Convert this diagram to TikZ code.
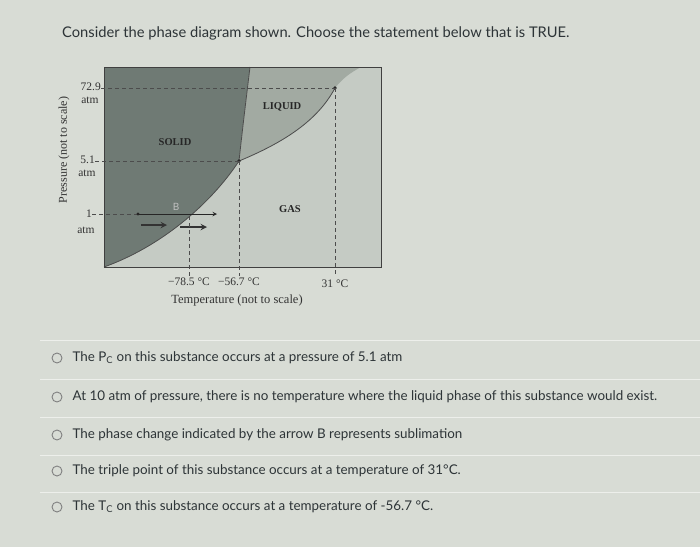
\documentclass[tikz,border=0pt]{standalone}
\usepackage{fontspec}
\setmainfont{Lato}
\newfontfamily\diagfont{Liberation Serif}
\usetikzlibrary{positioning, arrows}
\definecolor{fondo}{HTML}{D8DCD5}
\definecolor{solido}{HTML}{6F7A74}
\definecolor{liquido}{HTML}{A2AAA2}
\definecolor{gas}{HTML}{C5CBC4}
\definecolor{texto}{HTML}{2D3437}
\definecolor{linea}{HTML}{EDEFEB}
\tikzset{
	>=stealth, % puntas de flecha gruesas
	etiqueta/.style={font=\diagfont\fontsize{11.5}{12}\selectfont, text=black!80, inner sep=0pt}, % textos de los ejes
	region/.style={font=\diagfont\bfseries\fontsize{10.5}{11}\selectfont, text=black!85, inner sep=0pt}, % nombres de las fases
	guia/.style={black!70, thin, dash pattern=on 4pt off 3pt}, % lineas punteadas
	curva/.style={black!70, line width=0.8pt}, % limites entre fases
	opcion/.style={font=\fontsize{13.4}{15}\selectfont, text=texto, anchor=west, inner sep=0pt}, % respuestas
	circulo/.style={circle, draw=black!50, line width=0.9pt, minimum size=10pt, inner sep=0pt}, % botones
	separador/.style={draw=linea, line width=1pt} % lineas entre respuestas
}

\begin{document}
\begin{tikzpicture}[x=1pt, y=-1pt]
	\useasboundingbox[fill=fondo] (0,0) rectangle (700,547);
	\node[anchor=west, font=\fontsize{14.7}{16}\selectfont, text=texto, inner sep=0pt] (titulo) at (62,33) {Consider the phase diagram shown. Choose the statement below that is TRUE.};

	% puntos del diagrama
	\coordinate (ul) at (104,67);
	\coordinate (br) at (381,267);
	\coordinate (o) at (104,267);
	\coordinate (tp) at (239,161);
	\coordinate (cp) at (335,88);
	\coordinate (sl) at (250,67);
	\coordinate (lg) at (361,67);

	% fases
	\fill[gas] (ul) rectangle (br);
	\fill[solido] (ul) -- (o) .. controls (160,247) and (210,205) .. (tp) .. controls (243,125) .. (sl) -- cycle;
	\fill[liquido] (sl) .. controls (243,125) .. (tp) .. controls (285,142) and (318,120) .. (cp) .. controls (343,78) and (350,73) .. (lg) -- cycle;
	\draw[curva] (o) .. controls (160,247) and (210,205) .. (tp);
	\draw[curva] (tp) .. controls (243,125) .. (sl);
	\draw[curva] (tp) .. controls (285,142) and (318,120) .. (cp);
	\draw[black!75, line width=0.9pt] (ul) rectangle (br);
	\fill[black!85] (tp) circle (1.8);
	\fill[black!85] (cp) circle (1.8);

	% eje de presion
	\node[etiqueta, rotate=90, font=\diagfont\fontsize{12}{13}\selectfont] (presion) at (64,150) {Pressure (not to scale)};
	\node[etiqueta, anchor=east] (p72) at (101,87) {72.9};
	\node[etiqueta] (p72u) at (90,100) {atm};
	\node[etiqueta, anchor=east] (p51) at (95,160) {5.1};
	\node[etiqueta] (p51u) at (87,173) {atm};
	\node[etiqueta, anchor=east] (p1) at (92,214) {1};
	\node[etiqueta] (p1u) at (86,230) {atm};
	\coordinate (h72) at (cp -| p72.east);
	\coordinate (h51) at (tp -| p51.east);
	\draw[guia] (h72) -- (cp);
	\draw[guia] (h51) -- (tp);

	% flecha B
	\coordinate (bini) at (138,214);
	\coordinate (bfin) at (217,214);
	\draw[guia] (p1.east) -- (bini);
	\draw[->, black!85, line width=1pt] (bini) -- (bfin);
	\fill[black!85] (bini) circle (1.6);
	\node[font=\fontsize{10}{11}\selectfont, text=black!25, inner sep=0pt] (b) at (176,207) {B};
	\coordinate (a1i) at (141,225);
	\coordinate (a1f) at (167,225);
	\coordinate (a2i) at (180,227);
	\coordinate (a2f) at (207,227);
	\draw[->, black!80, line width=1.8pt] (a1i) -- (a1f);
	\draw[->, black!80, line width=1.8pt] (a2i) -- (a2f);

	% eje de temperatura
	\coordinate (c785) at (189,216);
	\coordinate (t785) at (189,276);
	\coordinate (t567) at (239,276);
	\coordinate (t31) at (335,276);
	\draw[guia] (c785) -- (t785);
	\draw[guia] (tp) -- (t567);
	\draw[guia] (cp) -- (t31);
	\node[etiqueta, below=2pt of t785] (l785) {−78.5 °C};
	\node[etiqueta, below=2pt of t567] (l567) {−56.7 °C};
	\node[etiqueta, below=4pt of t31] (l31) {31 °C};
	\node[etiqueta, font=\diagfont\fontsize{12.5}{13}\selectfont] (temp) at (237,300) {Temperature (not to scale)};

	\node[region] (solid) at (175,142) {SOLID};
	\node[region] (liquid) at (282,107) {LIQUID};
	\node[region] (gasl) at (290,209) {GAS};

	% respuestas
	\draw[separador] (40,340) -- (700,340);
	\draw[separador] (40,379) -- (700,379);
	\draw[separador] (40,417) -- (700,417);
	\draw[separador] (40,455) -- (700,455);
	\draw[separador] (40,492) -- (700,492);
	\node[circulo] (r1) at (57,358) {};
	\node[circulo] (r2) at (57,397) {};
	\node[circulo] (r3) at (57,435) {};
	\node[circulo] (r4) at (57,471) {};
	\node[circulo] (r5) at (57,507) {};
	\node[opcion, right=10pt of r1] (o1) {The P\textsubscript{C} on this substance occurs at a pressure of 5.1 atm};
	\node[opcion, right=10pt of r2] (o2) {At 10 atm of pressure, there is no temperature where the liquid phase of this substance would exist.};
	\node[opcion, right=10pt of r3] (o3) {The phase change indicated by the arrow B represents sublimation};
	\node[opcion, right=10pt of r4] (o4) {The triple point of this substance occurs at a temperature of 31°C.};
	\node[opcion, right=10pt of r5] (o5) {The T\textsubscript{C} on this substance occurs at a temperature of -56.7 °C.};
\end{tikzpicture}
\end{document}
